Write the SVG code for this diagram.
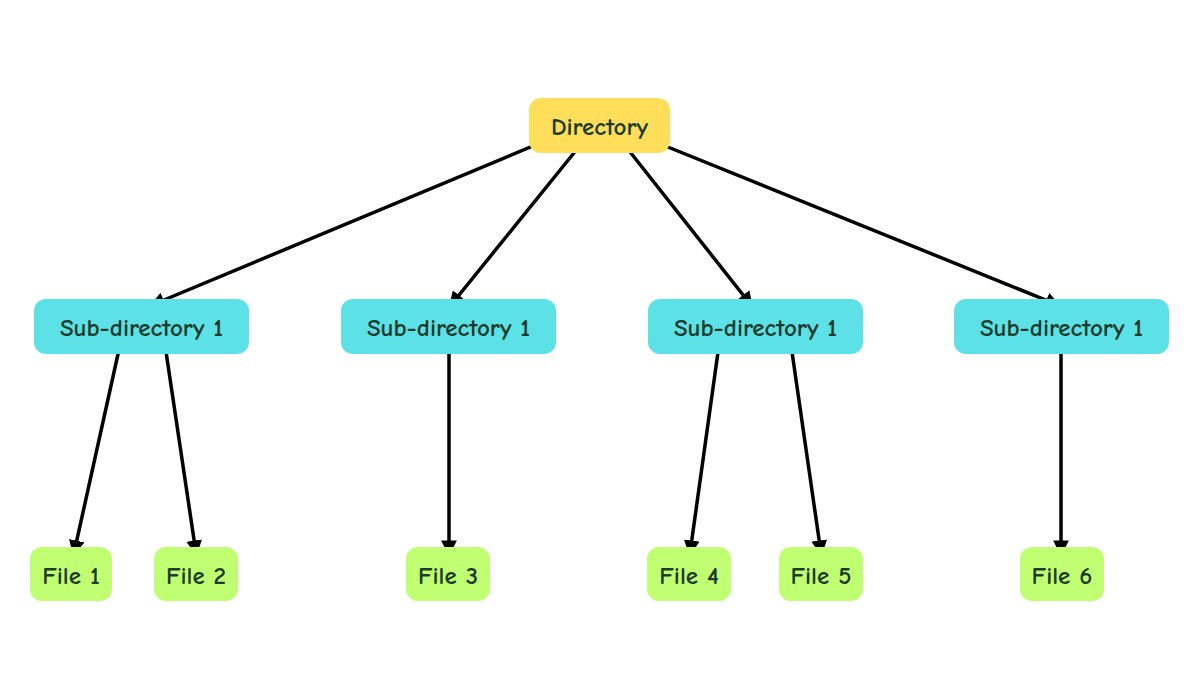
<svg xmlns="http://www.w3.org/2000/svg" width="1200" height="700" viewBox="0 0 1200 700">
<style>
text{font-family:"Comic Neue","Noto Sans","DejaVu Sans",sans-serif;font-size:25px;font-weight:bold;fill:#1e3b2c;text-anchor:middle;dominant-baseline:central}
.root{fill:#ffde59}.sub{fill:#5ce1e6}.file{fill:#c1ff72}
.c line{stroke:#000;stroke-width:3.5;marker-end:url(#a)}
</style>
<defs><marker id="a" viewBox="0 0 10 10" refX="8" refY="5" markerWidth="4.5" markerHeight="4.5" orient="auto"><path d="M0,0L10,5L0,10z" fill="#000"/></marker></defs>
<rect width="1200" height="700" fill="#fff"/>
<g class="c">
<line x1="540" y1="143" x2="152" y2="305"/>
<line x1="582" y1="143" x2="451" y2="305"/>
<line x1="623" y1="143" x2="751" y2="305"/>
<line x1="658" y1="143" x2="1058" y2="305"/>
<line x1="120" y1="345" x2="74" y2="553"/>
<line x1="165" y1="345" x2="196" y2="553"/>
<line x1="449" y1="345" x2="449" y2="553"/>
<line x1="719" y1="345" x2="690" y2="553"/>
<line x1="791" y1="345" x2="821" y2="553"/>
<line x1="1061" y1="345" x2="1061" y2="553"/>
</g>
<g id="directory"><rect class="root" x="529" y="98" width="141" height="55" rx="12"/><text x="599.5" y="126">Directory</text></g>
<g id="sub1"><rect class="sub" x="34" y="299" width="215" height="55" rx="12"/><text x="141.5" y="327">Sub-directory 1</text></g>
<g id="sub2"><rect class="sub" x="341" y="299" width="215" height="55" rx="12"/><text x="448.5" y="327">Sub-directory 1</text></g>
<g id="sub3"><rect class="sub" x="648" y="299" width="215" height="55" rx="12"/><text x="755.5" y="327">Sub-directory 1</text></g>
<g id="sub4"><rect class="sub" x="954" y="299" width="215" height="55" rx="12"/><text x="1061.5" y="327">Sub-directory 1</text></g>
<g id="file1"><rect class="file" x="30" y="547" width="82" height="54" rx="12"/><text x="71" y="575">File 1</text></g>
<g id="file2"><rect class="file" x="154" y="547" width="84" height="54" rx="12"/><text x="196" y="575">File 2</text></g>
<g id="file3"><rect class="file" x="406" y="547" width="84" height="54" rx="12"/><text x="448" y="575">File 3</text></g>
<g id="file4"><rect class="file" x="647" y="547" width="84" height="54" rx="12"/><text x="689" y="575">File 4</text></g>
<g id="file5"><rect class="file" x="779" y="547" width="84" height="54" rx="12"/><text x="821" y="575">File 5</text></g>
<g id="file6"><rect class="file" x="1020" y="547" width="84" height="54" rx="12"/><text x="1062" y="575">File 6</text></g>
</svg>
